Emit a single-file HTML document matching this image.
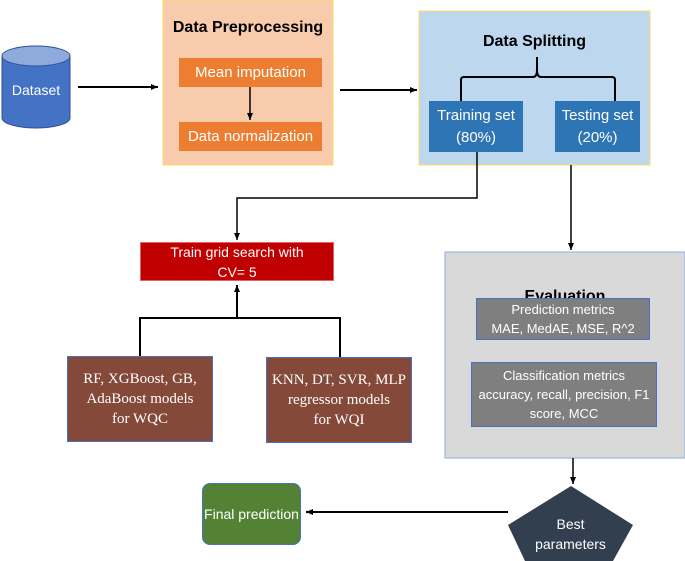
<!DOCTYPE html>
<html><head><style>
body{margin:0;width:685px;height:561px;background:#fff;position:relative;overflow:hidden;font-family:"Liberation Sans Narrow","Liberation Sans",sans-serif;}
.b{position:absolute;box-sizing:border-box;display:flex;align-items:center;justify-content:center;text-align:center;color:#fff;}
</style></head><body>
<svg width="685" height="561" style="position:absolute;left:0;top:0">
<defs><marker id="a" markerWidth="8" markerHeight="8" refX="7" refY="4" orient="auto" markerUnits="userSpaceOnUse"><path d="M0,1 L7,4 L0,7z" fill="#000"/></marker></defs>
<!-- cylinder -->
<path d="M2,56 L2,118 A34,10 0 0 0 70,118 L70,56" fill="#4472c4" stroke="#2f528f" stroke-width="1"/>
<ellipse cx="36" cy="56" rx="34" ry="10" fill="#8faadc" stroke="#2f528f" stroke-width="1"/>
<rect x="163" y="0" width="170" height="165" fill="#f8cbad" stroke="#ffd966"/>
<rect x="419" y="11" width="231" height="154" fill="#bdd7ee" stroke="#ffd966"/>
<rect x="445" y="252" width="240" height="206" fill="#d9d9d9" stroke="#8faadc"/>
<g stroke="#000" stroke-width="2" fill="none">
<line x1="78" y1="87" x2="158" y2="87" marker-end="url(#a)"/>
<line x1="250" y1="87" x2="250" y2="120" stroke-width="1.5" marker-end="url(#a)"/>
<line x1="340" y1="90" x2="417" y2="90" marker-end="url(#a)"/>
<path d="M461,101 L461,80 Q461,77 464,77 L533,77 Q537,77 537,70 L537,57 M537,70 Q537,77 541,77 L612,77 Q615,77 615,80 L615,101"/>
<path d="M477,152 L477,198 L237,198 L237,240" stroke-width="1.5" marker-end="url(#a)"/>
<path d="M571,165 L571,250" stroke-width="1.5" marker-end="url(#a)"/>
<path d="M140,357 L140,318 L340,318 L340,357 M237,318 L237,285" marker-end="url(#a)"/>
<path d="M573,458 L573,484" stroke-width="1.5" marker-end="url(#a)"/>
<path d="M508,512 L306,512" marker-end="url(#a)"/>
</g>
<polygon points="571,486 633,525 613,561 525,561 508,525" fill="#323f4f"/>
</svg>
<div class="b" style="left:2px;top:75px;width:68px;height:30px;font-size:14px">Dataset</div>
<div class="b" style="left:163px;top:14px;width:170px;height:28px;color:#000;font-weight:bold;font-size:16px">Data Preprocessing</div>
<div class="b" style="left:179px;top:58px;width:143px;height:29px;background:#ed7d31;font-size:15px">Mean imputation</div>
<div class="b" style="left:179px;top:122px;width:143px;height:29px;background:#ed7d31;font-size:15px">Data normalization</div>
<div class="b" style="left:419px;top:28px;width:231px;height:28px;color:#000;font-weight:bold;font-size:16px">Data Splitting</div>
<div class="b" style="left:429px;top:101px;width:94px;height:51px;background:#2e75b6;font-size:15px;line-height:22px">Training set<br>(80%)</div>
<div class="b" style="left:555px;top:101px;width:85px;height:51px;background:#2e75b6;font-size:15px;line-height:22px">Testing set<br>(20%)</div>
<div class="b" style="left:140px;top:242px;width:194px;height:39px;background:#c00000;border:1px solid #e06666;font-size:14px;line-height:20px">Train grid search with<br>CV= 5</div>
<div class="b" style="left:67px;top:356px;width:146px;height:86px;background:#85493a;border:1px solid #4472c4;font-family:'Liberation Serif',serif;font-size:15px;line-height:20px">RF, XGBoost, GB,<br>AdaBoost models<br>for WQC</div>
<div class="b" style="left:266px;top:357px;width:146px;height:86px;background:#85493a;border:1px solid #4472c4;font-family:'Liberation Serif',serif;font-size:15px;line-height:20px">KNN, DT, SVR, MLP<br>regressor models<br>for WQI</div>
<div class="b" style="left:445px;top:285px;width:240px;height:24px;color:#000;font-weight:bold;font-size:16px">Evaluation</div>
<div class="b" style="left:476px;top:298px;width:174px;height:42px;background:#7f7f7f;border:1px solid #4472c4;font-size:13px;line-height:19px">Prediction metrics<br>MAE, MedAE, MSE, R^2</div>
<div class="b" style="left:471px;top:362px;width:186px;height:65px;background:#7f7f7f;border:1px solid #4472c4;font-size:13px;line-height:19px">Classification metrics<br>accuracy, recall, precision, F1<br>score, MCC</div>
<div class="b" style="left:202px;top:483px;width:99px;height:62px;background:#548235;border:1px solid #4472c4;border-radius:8px;font-size:14px">Final prediction</div>
<div class="b" style="left:508px;top:512px;width:125px;height:44px;font-size:14px;line-height:20px">Best<br>parameters</div>
</body></html>
